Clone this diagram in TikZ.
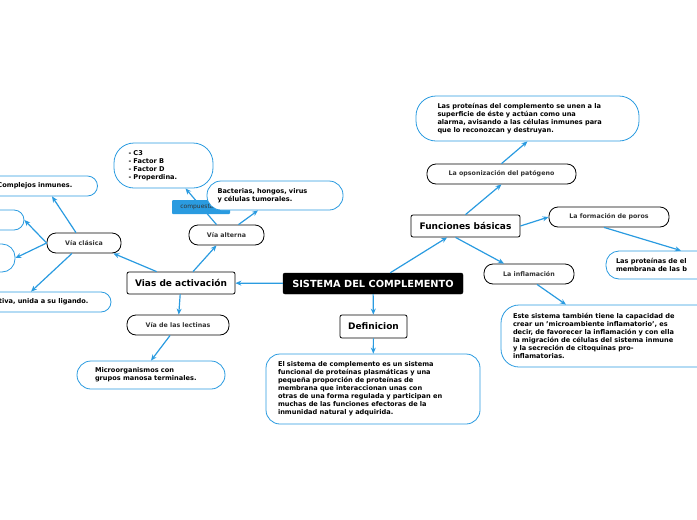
\documentclass[tikz,border=0pt]{standalone}
\usepackage{fontspec}
\setmainfont{DejaVu Sans}
\usetikzlibrary{arrows.meta,calc}
\definecolor{lb}{HTML}{2A9BE0}
\begin{document}
\begin{tikzpicture}[x=1pt,y=-1pt,
 arr/.style={draw=lb,line width=1.2pt,-{Stealth[length=6pt,width=5pt]}},
 sub/.style={draw=black,line width=0.8pt,rounded corners=9pt,fill=white,font=\bfseries\fontsize{6.3}{7}\selectfont,text=black!80,inner sep=0pt},
 leaf/.style={draw=lb,line width=0.8pt,rounded corners=14pt,fill=white,font=\bfseries\fontsize{6.6}{8}\selectfont,align=left,inner sep=0pt},
 top/.style={draw=black,line width=0.8pt,rounded corners=2pt,fill=white,font=\bfseries\fontsize{9}{10}\selectfont,inner sep=0pt}]
\useasboundingbox (0,0) rectangle (697,520);
\clip (0,0) rectangle (697,520);
% nodes
\node[draw=black,fill=black,rounded corners=2pt,text=white,font=\bfseries\fontsize{9.8}{11}\selectfont,minimum width=180pt,minimum height=21pt,inner sep=0pt] (main) at (373,283.5) {SISTEMA DEL COMPLEMENTO};
\node[top,minimum width=67pt,minimum height=23pt] (def) at (373.5,326.5) {Definicion};
\node[leaf,minimum width=214pt,minimum height=70pt,text width=190pt] (deft) at (373,389) {El sistema de complemento es un sistema\\funcional de proteínas plasmáticas y una\\pequeña proporción de proteínas de\\membrana que interaccionan unas con\\otras de una forma regulada y participan en\\muchas de las funciones efectoras de la\\inmunidad natural y adquirida.};
\node[top,minimum width=108pt,minimum height=22pt] (vias) at (181,283) {Vias de activación};
\node[sub,minimum width=74pt,minimum height=20pt] (clas) at (84,243) {Vía clásica};
\node[leaf,minimum width=137pt,minimum height=20pt,text width=125pt,rounded corners=10pt] (ci) at (29,186) {\hspace*{31pt}Complejos inmunes.};
\node[leaf,minimum width=84pt,minimum height=20pt,text width=72pt,rounded corners=10pt] (s2) at (-18,220) {\hspace*{43pt}s.};
\node[leaf,minimum width=60pt,minimum height=28pt,rounded corners=13pt] (s3) at (-15,258) {};
\node[leaf,minimum width=200pt,minimum height=20pt,text width=190pt,rounded corners=10pt] (s4) at (11,302) {\hspace*{79pt}ctiva, unida a su ligando.};
\node[sub,minimum width=75pt,minimum height=20pt] (alt) at (226.5,235) {Vía alterna};
\node[leaf,minimum width=99pt,minimum height=45pt,text width=70pt,rounded corners=20pt] (c3) at (163.5,165.5) {- C3\\- Factor B\\- Factor D\\- Properdina.};
\draw[arr] ($(alt.north)+(-10,0)$) -- ($(c3.south)+(22,0)$);
\node[fill=lb,rounded corners=1pt,minimum width=58pt,minimum height=14pt,inner sep=0pt,font=\fontsize{6}{7}\selectfont,text=black!80] (comp) at (201,207) {compuesta\hspace*{8pt}};
\node[leaf,minimum width=136pt,minimum height=29pt,text width=115pt] (bact) at (275,195.5) {Bacterias, hongos, virus\\y células tumorales.};
\node[sub,minimum width=102pt,minimum height=20pt] (lec) at (178,325) {Vía de las lectinas};
\node[leaf,minimum width=148pt,minimum height=28pt,text width=112pt] (micro) at (151,375) {Microorganismos con\\grupos manosa terminales.};
\node[top,minimum width=109pt,minimum height=22pt] (fun) at (465.5,226) {Funciones básicas};
\node[sub,minimum width=149pt,minimum height=20pt] (ops) at (501.5,174) {La opsonización del patógeno};
\node[leaf,minimum width=223pt,minimum height=45pt,text width=180pt,rounded corners=20pt] (opst) at (527.5,118.5) {Las proteínas del complemento se unen a la\\superficie de éste y actúan como una\\alarma, avisando a las células inmunes para\\que lo reconozcan y destruyan.};
\node[sub,minimum width=120pt,minimum height=20pt] (por) at (609,217) {La formación de poros};
\node[leaf,minimum width=130pt,minimum height=28pt,text width=110pt,rounded corners=13pt] (port) at (671,265) {Las proteínas de el\\membrana de las b};
\node[sub,minimum width=90pt,minimum height=20pt] (inf) at (529,274) {La inflamación};
\node[leaf,minimum width=220pt,minimum height=62pt,text width=180pt,rounded corners=18pt] (inft) at (611,336) {\hspace*{-8pt}\parbox{180pt}{\raggedright Este sistema también tiene la capacidad de\\crear un 'microambiente inflamatorio', es\\decir, de favorecer la inflamación y con ella\\la migración de células del sistema inmune\\y la secreción de citoquinas pro-\\inflamatorias.}};
% edges
\draw[arr] (main) -- (def);
\draw[arr] (def) -- (deft);
\draw[arr] (main) -- (vias);
\draw[arr] ($(vias.north west)+(30,0)$) -- ($(clas.south east)+(-8,0)$);
\draw[arr] ($(vias.north)+(12,0)$) -- ($(alt.south)+(-10,0)$);
\draw[arr] (vias) -- (lec);
\draw[arr] (lec) -- (micro.north);
\draw[arr] ($(clas.north)+(-8,0)$) -- ($(ci.south)+(23,0)$);
\draw[arr] (clas.west) -- (s2.east);
\draw[arr] (clas.west) -- (s3.east);
\draw[arr] ($(clas.south)+(-12,0)$) -- ($(s4.north)+(20,0)$);
\draw[arr] ($(alt.north)+(12,0)$) -- ($(bact.south)+(-17,0)$);
\draw[arr] (main) -- (fun);
\draw[arr] (fun.north) -- (ops.south);
\draw[arr] (ops.north) -- (opst.south);
\draw[arr] (fun.east) -- (por.west);
\draw[arr] ($(por.south)+(-5,0)$) -- ($(port.north)+(10,0)$);
\draw[arr] ($(fun.south)+(-10,0)$) -- ($(inf.north)+(-25,0)$);
\draw[arr] ($(inf.south)+(8,0)$) -- ($(inft.north)+(-45,0)$);
\end{tikzpicture}
\end{document}
